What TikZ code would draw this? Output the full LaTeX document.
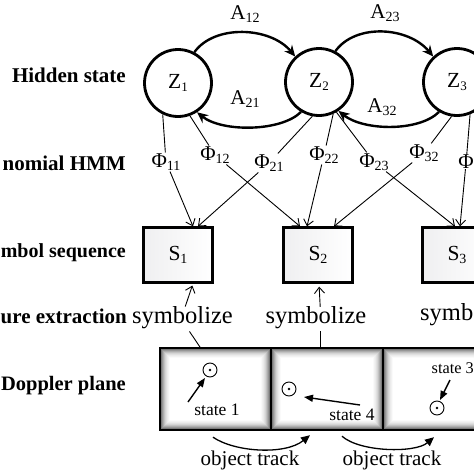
\documentclass[tikz,border=0pt]{standalone}
\usepackage{fontspec}
\setmainfont{Liberation Serif}
\usetikzlibrary{arrows.meta,calc}
\newcommand\lsub[1]{\raisebox{-0.3ex}{\fontsize{14}{14}\selectfont #1}}
\newcommand\zsub[1]{\raisebox{-0.3ex}{\fontsize{13}{13}\selectfont #1}}
\begin{document}
\begin{tikzpicture}[x=1pt,y=-1pt,
  hid/.style={circle, draw, line width=2.8pt, minimum size=67pt, inner sep=0pt, font=\fontsize{21.5}{23}\selectfont},
  symbox/.style={rectangle, draw, line width=2.3pt, minimum width=69pt, minimum height=55pt, left color=blue!5!gray!12, right color=white, font=\fontsize{21.5}{23}\selectfont},
  rowlab/.style={anchor=base east, inner sep=0pt, font=\bfseries\fontsize{21}{24}\selectfont},
  lab/.style={font=\fontsize{21}{23}\selectfont, inner sep=1pt},
  symtxt/.style={anchor=base, inner sep=3pt, font=\fontsize{24.5}{26}\selectfont},
  ottxt/.style={anchor=base, inner sep=1pt, font=\fontsize{21}{23}\selectfont},
  sttxt/.style={inner sep=1pt, font=\fontsize{17.5}{19}\selectfont},
  aarc/.style={line width=2.4pt, -{Stealth[length=11pt,width=10pt]}},
  philine/.style={line width=0.9pt},
  phiarr/.style={line width=0.9pt, -{Straight Barb[length=6pt,width=10pt]}},
  starr/.style={line width=1.4pt, -{Triangle[length=9pt,width=7pt]}},
  otarr/.style={line width=1.3pt, -{Triangle[length=9pt,width=8pt]}},
  framebox/.style={rectangle, minimum height=82pt, inner sep=0pt, fill=white},
  dotc/.style={circle, draw, line width=0.9pt, minimum size=14pt, inner sep=0pt}
]
\useasboundingbox (0,0) rectangle (474,474);
\clip (0,0) rectangle (474,474);
\fill[white] (0,0) rectangle (474,474);

% row labels (as far as the picture shows them)
\node[rowlab] (r1) at (126,82) {Hidden state};
\node[rowlab] (r2) at (126,170) {nomial HMM};
\node[rowlab, font=\bfseries\fontsize{20}{24}\selectfont] (r3) at (126,257) {mbol sequence};
\node[rowlab] (r4) at (127,323) {ure extraction};
\node[rowlab, font=\bfseries\fontsize{20.5}{24}\selectfont] (r5) at (126,390) {Doppler plane};

% hidden states
\node[hid] (z1) at (178,83) {Z\zsub{1}};
\node[hid] (z2) at (319,82) {Z\zsub{2}};
\node[hid] (z3) at (457,82) {Z\zsub{3}};

% transitions
\node[lab] (a12) at (245,14) {A\lsub{12}};
\node[lab] (a23) at (385,13) {A\lsub{23}};
\node[lab] (a21) at (245,99) {A\lsub{21}};
\node[lab] (a32) at (382,107) {A\lsub{32}};
\draw[aarc] (z1.62) .. controls +(20,-28) and +(-25,-30) .. (z2.133);
\draw[aarc] (z2.62) .. controls +(20,-28) and +(-25,-30) .. (z3.133);
\draw[aarc] (z2.-121) .. controls +(-20,20) and +(25,20) .. (z1.-57);
\draw[aarc] (z3.-121) .. controls +(-20,20) and +(25,20) .. (z2.-56);

% symbols
\node[symbox] (s1) at (178,255) {S\lsub{1}};
\node[symbox] (s2) at (318,255) {S\lsub{2}};
\node[symbox] (s3) at (457,255) {S\lsub{3}};

% emission labels
\node[lab] (p11) at (166,162) {Φ\lsub{11}};
\node[lab] (p12) at (215,155) {Φ\lsub{12}};
\node[lab] (p21) at (269,163) {Φ\lsub{21}};
\node[lab] (p22) at (324,155) {Φ\lsub{22}};
\node[lab] (p23) at (374,162) {Φ\lsub{23}};
\node[lab] (p32) at (424,153) {Φ\lsub{32}};
\node[lab, anchor=east, inner sep=0pt] (p33) at (474,162) {Φ};

\draw[philine] (z1.-116) -- (p11);
\draw[phiarr] (p11) -- ($(s1.north)+(15,0)$);
\draw[philine] (z1.-70) -- (p12);
\draw[phiarr] (p12) -- ($(s2.north)+(-18,0)$);
\draw[philine] (z2.-101) -- (p21);
\draw[phiarr] (p21) -- ($(s1.north)+(20,0)$);
\draw[philine] (z2.-66) -- (p22);
\draw[phiarr] (p22) -- ($(s2.north)+(-11,0)$);
\draw[philine] (z2.-60) -- (p23);
\draw[phiarr] (p23) -- ($(s3.north)+(-2,0)$);
\draw[philine] (z3.-99) -- (p32);
\draw[phiarr] (p32) -- ($(s2.north)+(16,0)$);
\draw[philine] (z3.-68) -- (p33);
\draw[phiarr] (p33) -- ($(s3.north)+(3,0)$);

% symbolize
\node[symtxt] (y1) at (182.5,323) {symbolize};
\node[symtxt] (y2) at (316,323) {symbolize};
\node[symtxt, anchor=base west, inner sep=0pt] (y3) at (420,320) {symb};

% doppler frames
\node[framebox, minimum width=111pt] (f1) at (215.5,389) {};
\node[framebox, minimum width=112pt] (f2) at (327,389) {};
\node[framebox, minimum width=112pt] (f3) at (439,389) {};
\foreach \f in {f1,f2,f3}{
  \foreach \i/\c in {1/65,2/52,3/41,4/32,5/24,6/17,7/12,8/8,9/5,10/2}{
    \draw[black!\c, line width=1.2pt] ($(\f.north west)+(\i,\i)$) rectangle ($(\f.south east)+(-\i,-\i)$);
  }
  \draw[line width=1.8pt] (\f.north west) rectangle (\f.south east);
}

\draw[phiarr, shorten <=-4pt, shorten >=2pt] ($(y1.north)+(4,0)$) -- ($(s1.south)+(15,0)$);
\draw[phiarr, shorten <=-4pt, shorten >=3pt] ($(y2.north)+(4,0)$) -- ($(s2.south)+(1,0)$);
\draw[philine] ($(y1.south)+(7,0)$) -- ($(f1.north)+(-15,0)$);
\draw[philine] ($(y2.south)+(4,0)$) -- ($(f2.north)+(-7,0)$);

% targets in frames
\node[dotc] (d1) at (210,370) {};
\node[dotc] (d2) at (289,389) {};
\node[dotc] (d3) at (437,408) {};
\foreach \d in {d1,d2,d3}{\fill (\d.center) circle (1.4);}

\node[sttxt] (t1) at (217,410) {state 1};
\node[sttxt] (t4) at (352,415) {state 4};
\node[sttxt, anchor=east, inner sep=0pt, font=\fontsize{16.3}{18}\selectfont] (t3) at (474,368) {state 3};
\coordinate (c1) at (188,402);
\coordinate (c4) at (360,405);
\coordinate (c3) at (450,380);
\draw[starr] (c1) -- ($(d1)+(-5,8)$);
\draw[starr] (c4) -- ($(d2)+(15,8)$);
\draw[starr] (c3) -- ($(d3)+(3,-8)$);

% object track
\node[ottxt] (o1) at (250,465) {object track};
\node[ottxt] (o2) at (392,465) {object track};
\draw[otarr] ($(f1.south)+(-2.5,7)$) .. controls +(22,15) and +(-25,20) .. ($(f2.south)+(-17,5)$);
\draw[otarr] ($(f2.south)+(15,6)$) .. controls +(18,16) and +(-19,16) .. ($(f3.south)+(-5,7)$);
\end{tikzpicture}
\end{document}
